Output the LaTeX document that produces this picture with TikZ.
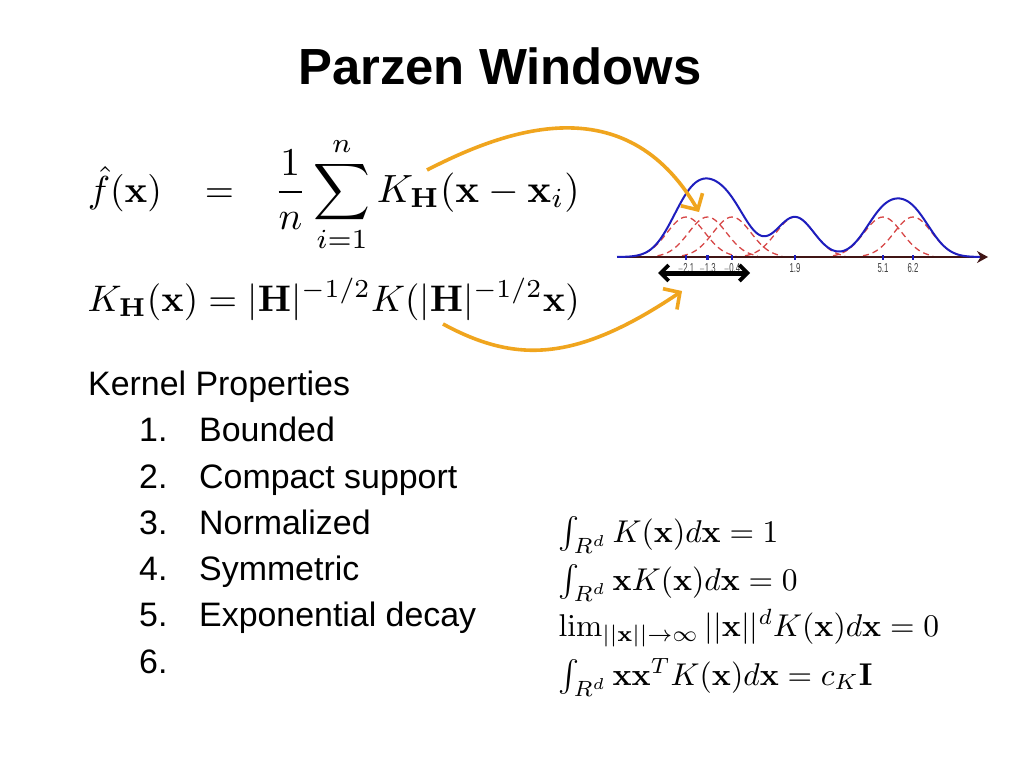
\documentclass[tikz,border=0pt]{standalone}
\usepackage[no-math]{fontspec}
\usepackage{amsmath}
\setmainfont{Liberation Sans}
\usetikzlibrary{arrows.meta}
\definecolor{arroworange}{RGB}{240,165,30}
\definecolor{curveblue}{RGB}{30,30,190}
\definecolor{kernelred}{RGB}{215,70,70}
\newcommand{\gk}[1]{exp(-0.5*((\x-#1)/19)*((\x-#1)/19))}
\tikzset{
  titletext/.style={font=\fontsize{50.8}{56}\selectfont\bfseries,inner sep=0pt},
  bodytext/.style={font=\fontsize{33.9}{40}\selectfont,anchor=base west,inner sep=0pt},
  bigeq/.style={anchor=base west,inner sep=0pt,scale=3.75},
  sumeq/.style={anchor=base west,inner sep=0pt,scale=3.94},
  kheq/.style={anchor=base west,inner sep=0pt,scale=3.7},
  smalleq/.style={anchor=base west,inner sep=0pt,scale=3.15},
  ticklab/.style={font=\fontsize{13}{14}\selectfont,inner sep=0pt,text=black!75,xscale=0.6},
  orangearrow/.style={draw=arroworange,line width=3.6pt,-{Straight Barb[length=12pt,width=25pt,line width=3.6pt]}},
  blackarrow/.style={draw=black,line width=5pt,{Straight Barb[length=8pt,width=16pt,line width=3.8pt]}-{Straight Barb[length=8pt,width=16pt,line width=3.8pt]}},
  kernelcurve/.style={draw=kernelred,line width=1.3pt,dash pattern=on 6pt off 4pt},
  blueline/.style={draw=curveblue,line width=2pt},
  tickdot/.style={fill=curveblue,inner sep=0pt,minimum width=2.5pt,minimum height=5pt}
}
\begin{document}
\begin{tikzpicture}[x=1pt,y=-1pt]
\useasboundingbox (0,0) rectangle (1024,768);
\fill[white] (0,0) rectangle (1024,768);
\node[titletext] (title) at (500,66) {Parzen Windows};
% main equations
\node[bigeq] (fhat) at (87,202) {$\hat f(\mathbf{x})$};
\node[bigeq] (eqsign) at (204,202) {$=$};
\node[sumeq] (rhs) at (273,202) {$\displaystyle\frac{1}{n}\sum_{i=1}^{n}K_{\mathbf{H}}(\mathbf{x}-\mathbf{x}_i)$};
\node[kheq] (kh) at (87,311) {$K_{\mathbf{H}}(\mathbf{x})=|\mathbf{H}|^{-1/2}K(|\mathbf{H}|^{-1/2}\mathbf{x})$};
% density plot
\coordinate (axisstart) at (617,257);
\coordinate (axisend) at (988,257);
\foreach \c in {686,707.5,732,795,883,913}
  \draw[kernelcurve] plot[smooth,domain=\c-50:\c+50,samples=41] (\x,{257-40*\gk{\c}});
\draw[draw=black!70!kernelred,line width=1.6pt,-{Stealth[length=11pt,width=12pt]}] (axisstart) -- (axisend);
\draw[blueline] plot[smooth,domain=617:980,samples=182]
  (\x,{257-40*(\gk{686}+\gk{707.5}+\gk{732}+\gk{795}+\gk{883}+\gk{913})});
\foreach \c/\n/\t in {686/a/$-$2.1,707.5/b/$-$1.3,732/c/$-$0.4,795/d/1.9,883/e/5.1,913/f/6.2}{
  \node[tickdot] (dot\n) at (\c,257) {};
  \node[ticklab] (lab\n) at (\c,268) {\t};
}
% black span arrow
\coordinate (spanl) at (658,273);
\coordinate (spanr) at (750,273);
\draw[blackarrow] (spanl) -- (spanr);
% orange arrows
\coordinate (topstart) at (427,170);
\coordinate (toptip) at (699,212);
\coordinate (botstart) at (443,324);
\coordinate (bottip) at (682,291);
\draw[orangearrow] (topstart) .. controls (505,130) and (625,85) .. (toptip);
\draw[orangearrow] (botstart) .. controls (515,363) and (575,363) .. (bottip);
% list
\node[bodytext] (head) at (88,395) {Kernel Properties};
\foreach \i/\y/\t in {1/441/Bounded,2/488/Compact support,3/534/Normalized,4/580/Symmetric,5/626/Exponential decay,6/673/}{
  \node[bodytext] (num\i) at (139,\y) {\i.};
  \node[bodytext] (item\i) at (199,\y) {\t\strut};
}
% properties
\node[smalleq] (p1) at (558,542) {$\int_{R^d}K(\mathbf{x})d\mathbf{x}=1$};
\node[smalleq] (p2) at (558,590) {$\int_{R^d}\mathbf{x}K(\mathbf{x})d\mathbf{x}=0$};
\node[smalleq] (p3) at (558,636) {$\lim_{||\mathbf{x}||\to\infty}||\mathbf{x}||^dK(\mathbf{x})d\mathbf{x}=0$};
\node[smalleq] (p4) at (558,685) {$\int_{R^d}\mathbf{x}\mathbf{x}^TK(\mathbf{x})d\mathbf{x}=c_K\mathbf{I}$};
\end{tikzpicture}
\end{document}
